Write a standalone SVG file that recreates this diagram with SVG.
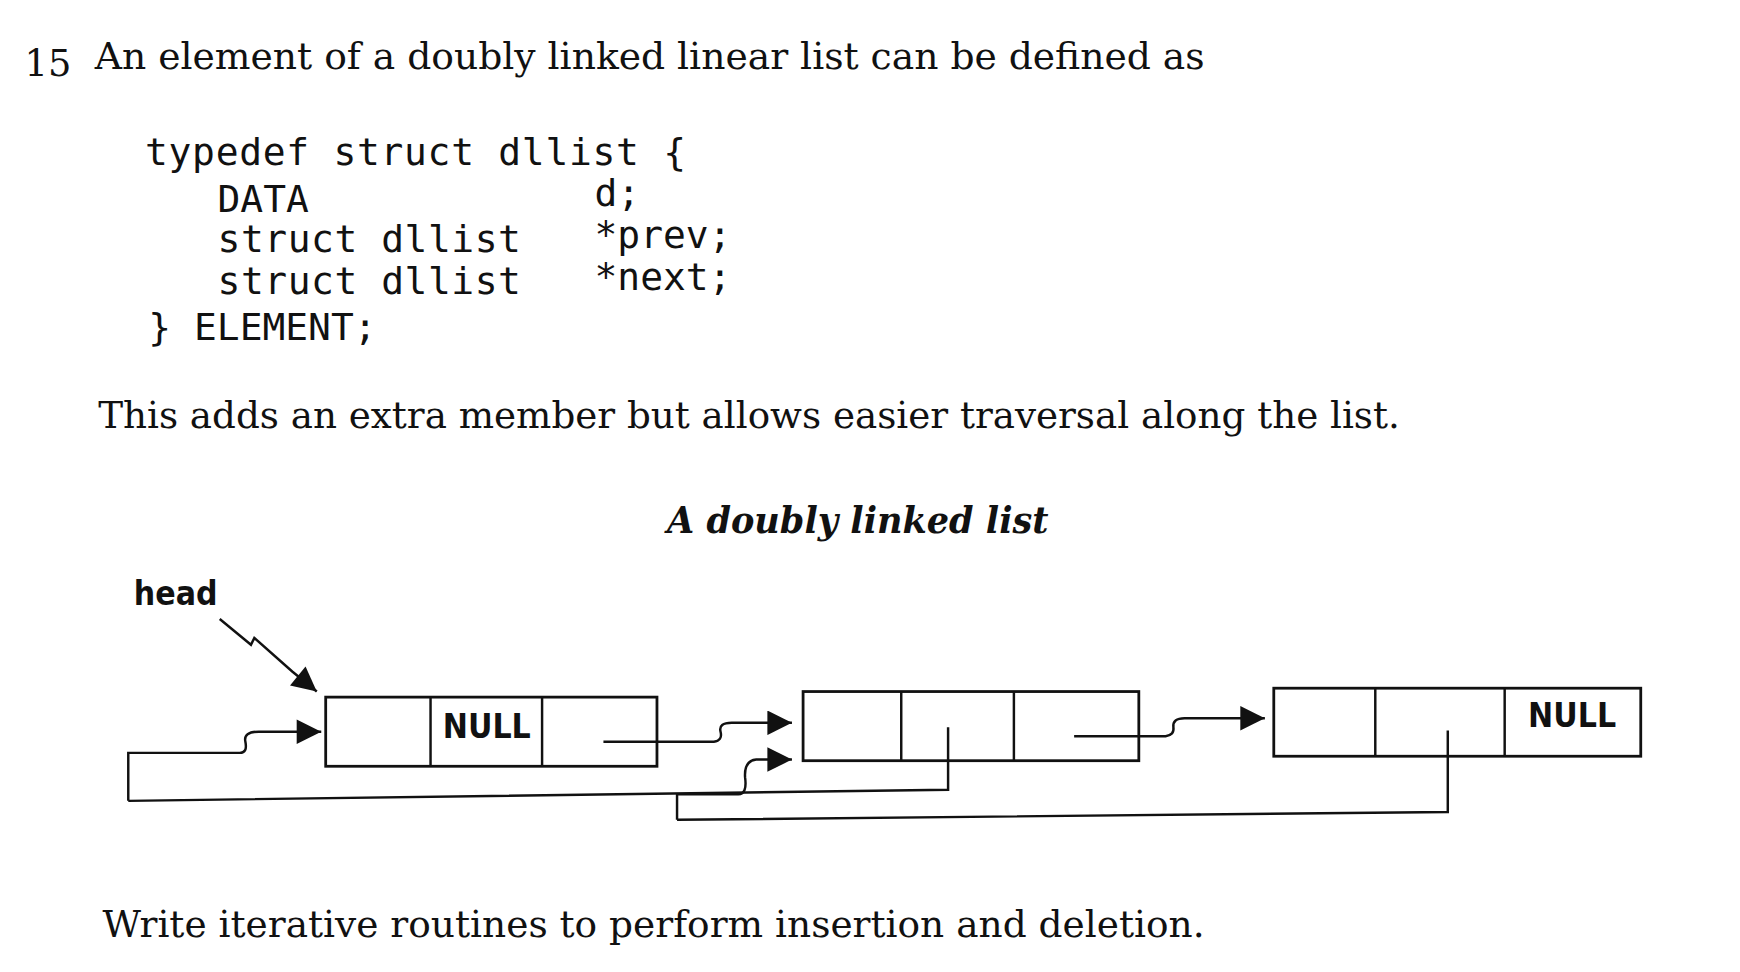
<svg xmlns="http://www.w3.org/2000/svg" width="1740" height="972" viewBox="0 0 1740 972">
<style>
.s{font-family:"DejaVu Serif","Liberation Serif",serif;font-size:33px;fill:#111}
.m{font-family:"DejaVu Sans Mono",monospace;font-size:34px;fill:#111}
.b{fill:#fff;stroke:#111;stroke-width:2.5}
.c{fill:none;stroke:#111;stroke-width:2.2}
.n{font-family:"DejaVu Sans Condensed","Liberation Sans",sans-serif;font-weight:bold;font-size:30px;fill:#111}
</style>
<defs>
<marker id="A" viewBox="0 0 10 10" refX="10" refY="5" markerWidth="36" markerHeight="22" markerUnits="userSpaceOnUse" orient="auto"><path d="M0,0L10,5L0,10z" fill="#111"/></marker></defs>
<rect width="1740" height="972" fill="#fff"/>
<g transform="scale(1.1154)">
<text class="s" x="22" y="68">15</text>
<text class="s" x="85" y="62" textLength="995" lengthAdjust="spacingAndGlyphs">An element of a doubly linked linear list can be defined as</text>
<text class="m" x="130" y="148" xml:space="preserve" textLength="485">typedef struct dllist {</text>
<text class="m" x="195" y="190">DATA</text><text class="m" x="533" y="185">d;</text>
<text class="m" x="195" y="226" textLength="272">struct dllist</text><text class="m" x="533" y="222">*prev;</text>
<text class="m" x="195" y="264" textLength="272">struct dllist</text><text class="m" x="533" y="260">*next;</text>
<text class="m" x="133" y="305">} ELEMENT;</text>
<text class="s" x="88" y="384" textLength="1167" lengthAdjust="spacingAndGlyphs">This adds an extra member but allows easier traversal along the list.</text>
<text x="598" y="478" textLength="342" lengthAdjust="spacingAndGlyphs" style="font-family:'DejaVu Serif','Liberation Serif',serif;font-style:italic;font-weight:bold;font-size:34px;fill:#111">A doubly linked list</text>
<text class="n" x="120" y="542">head</text>
<g id="node1"><rect class="b" x="292" y="625" width="297" height="62"/><path class="c" d="M386,625V687M486,625V687"/><text class="n" x="397" y="662">NULL</text></g>
<g id="node2"><rect class="b" x="720" y="620" width="301" height="62"/><path class="c" d="M808,620V682M909,620V682"/></g>
<g id="node3"><rect class="b" x="1142" y="617" width="329" height="61"/><path class="c" d="M1233,617V678M1349,617V678"/><text class="n" x="1370" y="652">NULL</text></g>
<g id="connectors">
<path class="c" d="M197,555L225,578L228,572L262,602L284,620" marker-end="url(#A)"/>
<path class="c" d="M115,718V675H215Q222,675 220,665Q218,656 232,656H288" marker-end="url(#A)"/>
<path class="c" d="M115,718L850,708V652"/>
<path class="c" d="M541,665H640Q648,664 646,656Q644,648 656,648H710" marker-end="url(#A)"/>
<path class="c" d="M607,735V712H662Q670,712 668,697Q667,682 678,681H710" marker-end="url(#A)"/>
<path class="c" d="M607,735L1298,728V655"/>
<path class="c" d="M963,660H1045Q1053,659 1052,652Q1051,644 1062,644H1134" marker-end="url(#A)"/>
</g>
<text class="s" x="92" y="840" textLength="988" lengthAdjust="spacingAndGlyphs">Write iterative routines to perform insertion and deletion.</text>
</g>
</svg>
